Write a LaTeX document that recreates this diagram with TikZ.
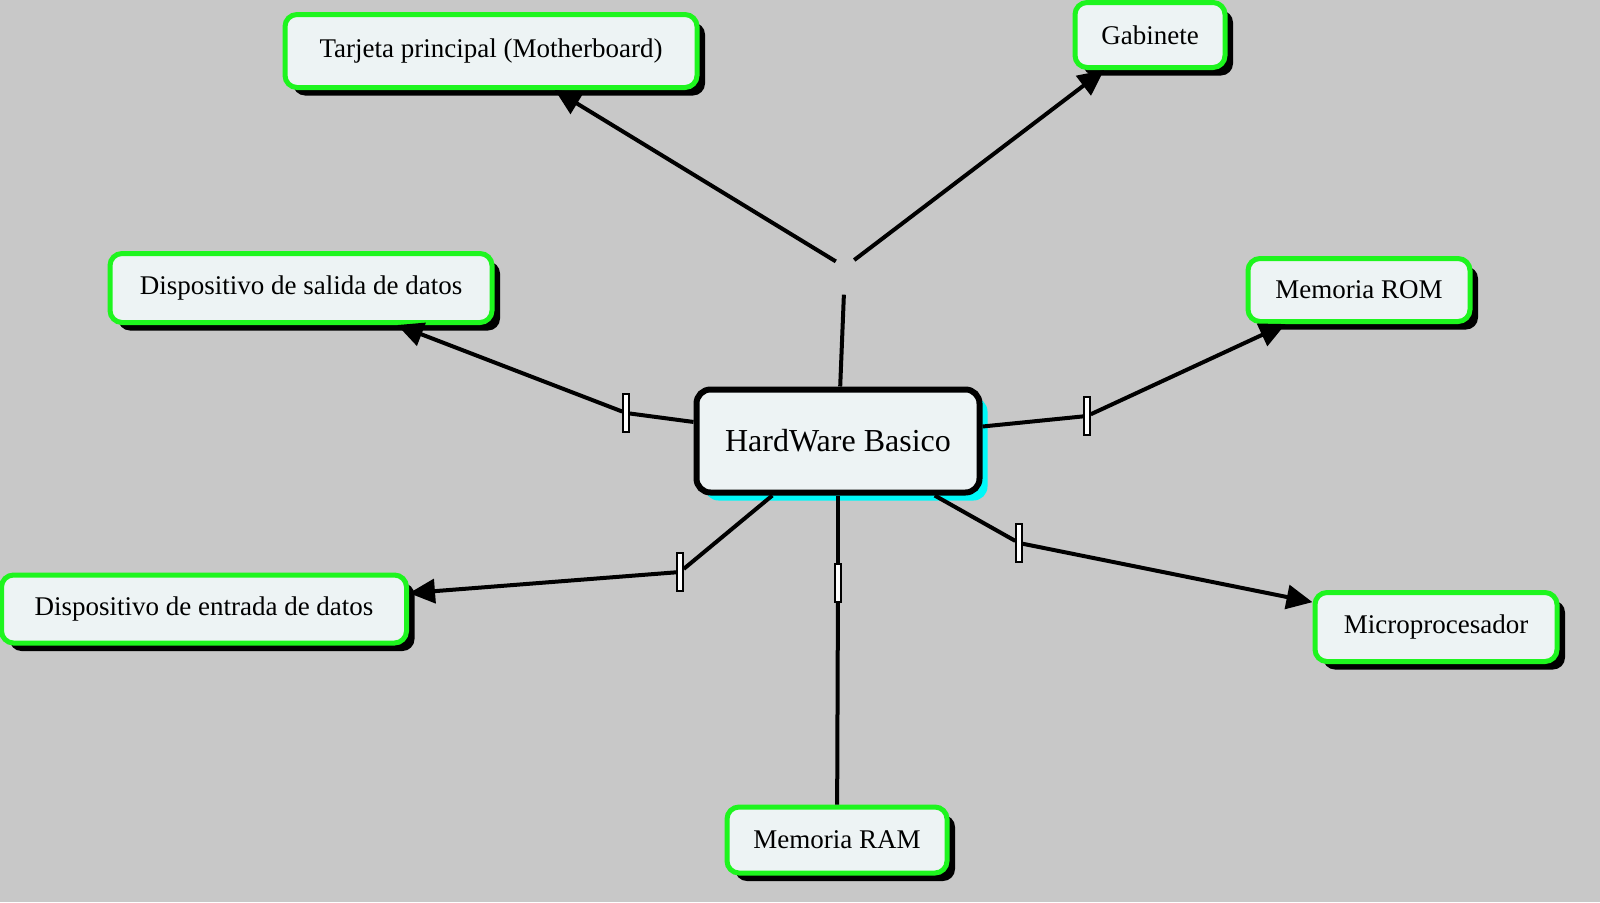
\documentclass[tikz,border=0pt]{standalone}
\usepackage{fontspec}
\setmainfont{Liberation Serif}
\usetikzlibrary{shadows,arrows.meta}
\definecolor{bg}{HTML}{C8C8C8}
\definecolor{nfill}{HTML}{EDF3F4}
\definecolor{ngreen}{HTML}{1EF51E}
\definecolor{cshadow}{HTML}{00F8F8}
\tikzset{
  concept/.style={draw=ngreen,line width=5pt,fill=nfill,rounded corners=12pt,inner sep=0pt,
    font=\fontsize{27}{32}\selectfont,
    drop shadow={shadow xshift=8pt,shadow yshift=-8pt,fill=black,opacity=1}},
  main/.style={draw=black,line width=6pt,fill=nfill,rounded corners=14pt,inner sep=0pt,
    font=\fontsize{32}{38}\selectfont,
    drop shadow={shadow xshift=8pt,shadow yshift=-8pt,fill=cshadow,opacity=1}},
  link/.style={draw=black,line width=1.5pt,fill=white,minimum width=6pt,minimum height=38pt,inner sep=0pt},
  conn/.style={line width=4pt,draw=black},
  arr/.style={conn,-{Triangle[length=26pt,width=24pt]}}
}
\begin{document}
\begin{tikzpicture}[x=1pt,y=-1pt]
\fill[bg] (0,0) rectangle (1600,902);
\useasboundingbox (0,0) rectangle (1600,902);
\node[main,minimum width=283,minimum height=103] (hw) at (838,441) {HardWare Basico};
\node[concept,minimum width=412,minimum height=73] (mb) at (491,51) {Tarjeta principal (Motherboard)};
\node[concept,minimum width=150,minimum height=65] (gab) at (1150,35) {Gabinete};
\node[concept,minimum width=382,minimum height=69] (sal) at (301,288) {Dispositivo de salida de datos};
\node[concept,minimum width=222,minimum height=63] (rom) at (1359,290) {Memoria ROM};
\node[concept,minimum width=405,minimum height=68] (ent) at (204,609) {Dispositivo de entrada de datos};
\node[concept,minimum width=242,minimum height=69] (mic) at (1436,627) {Microprocesador};
\node[concept,minimum width=220,minimum height=66] (ram) at (837,840) {Memoria RAM};
\node[minimum width=18,minimum height=55,inner sep=0pt] (top) at (845,267) {};
\node[link] (l1) at (626,413) {};
\node[link] (l2) at (1087,416) {};
\node[link] (l3) at (680,572) {};
\node[link] (l4) at (838,583) {};
\node[link] (l5) at (1019,543) {};
\draw[conn] (hw) -- (top);
\draw[arr] (top) -- (mb);
\draw[arr] (top) -- (gab);
\draw[conn] (hw) -- (l1); \draw[arr] (l1) -- (sal);
\draw[conn] (hw) -- (l2); \draw[arr] (l2) -- (rom);
\draw[conn] (hw) -- (l3); \draw[arr] (l3) -- (ent);
\draw[conn] (hw) -- (l4); \draw[conn] (l4) -- (ram);
\draw[conn] (hw) -- (l5); \draw[arr] (l5) -- (mic);
\end{tikzpicture}
\end{document}
